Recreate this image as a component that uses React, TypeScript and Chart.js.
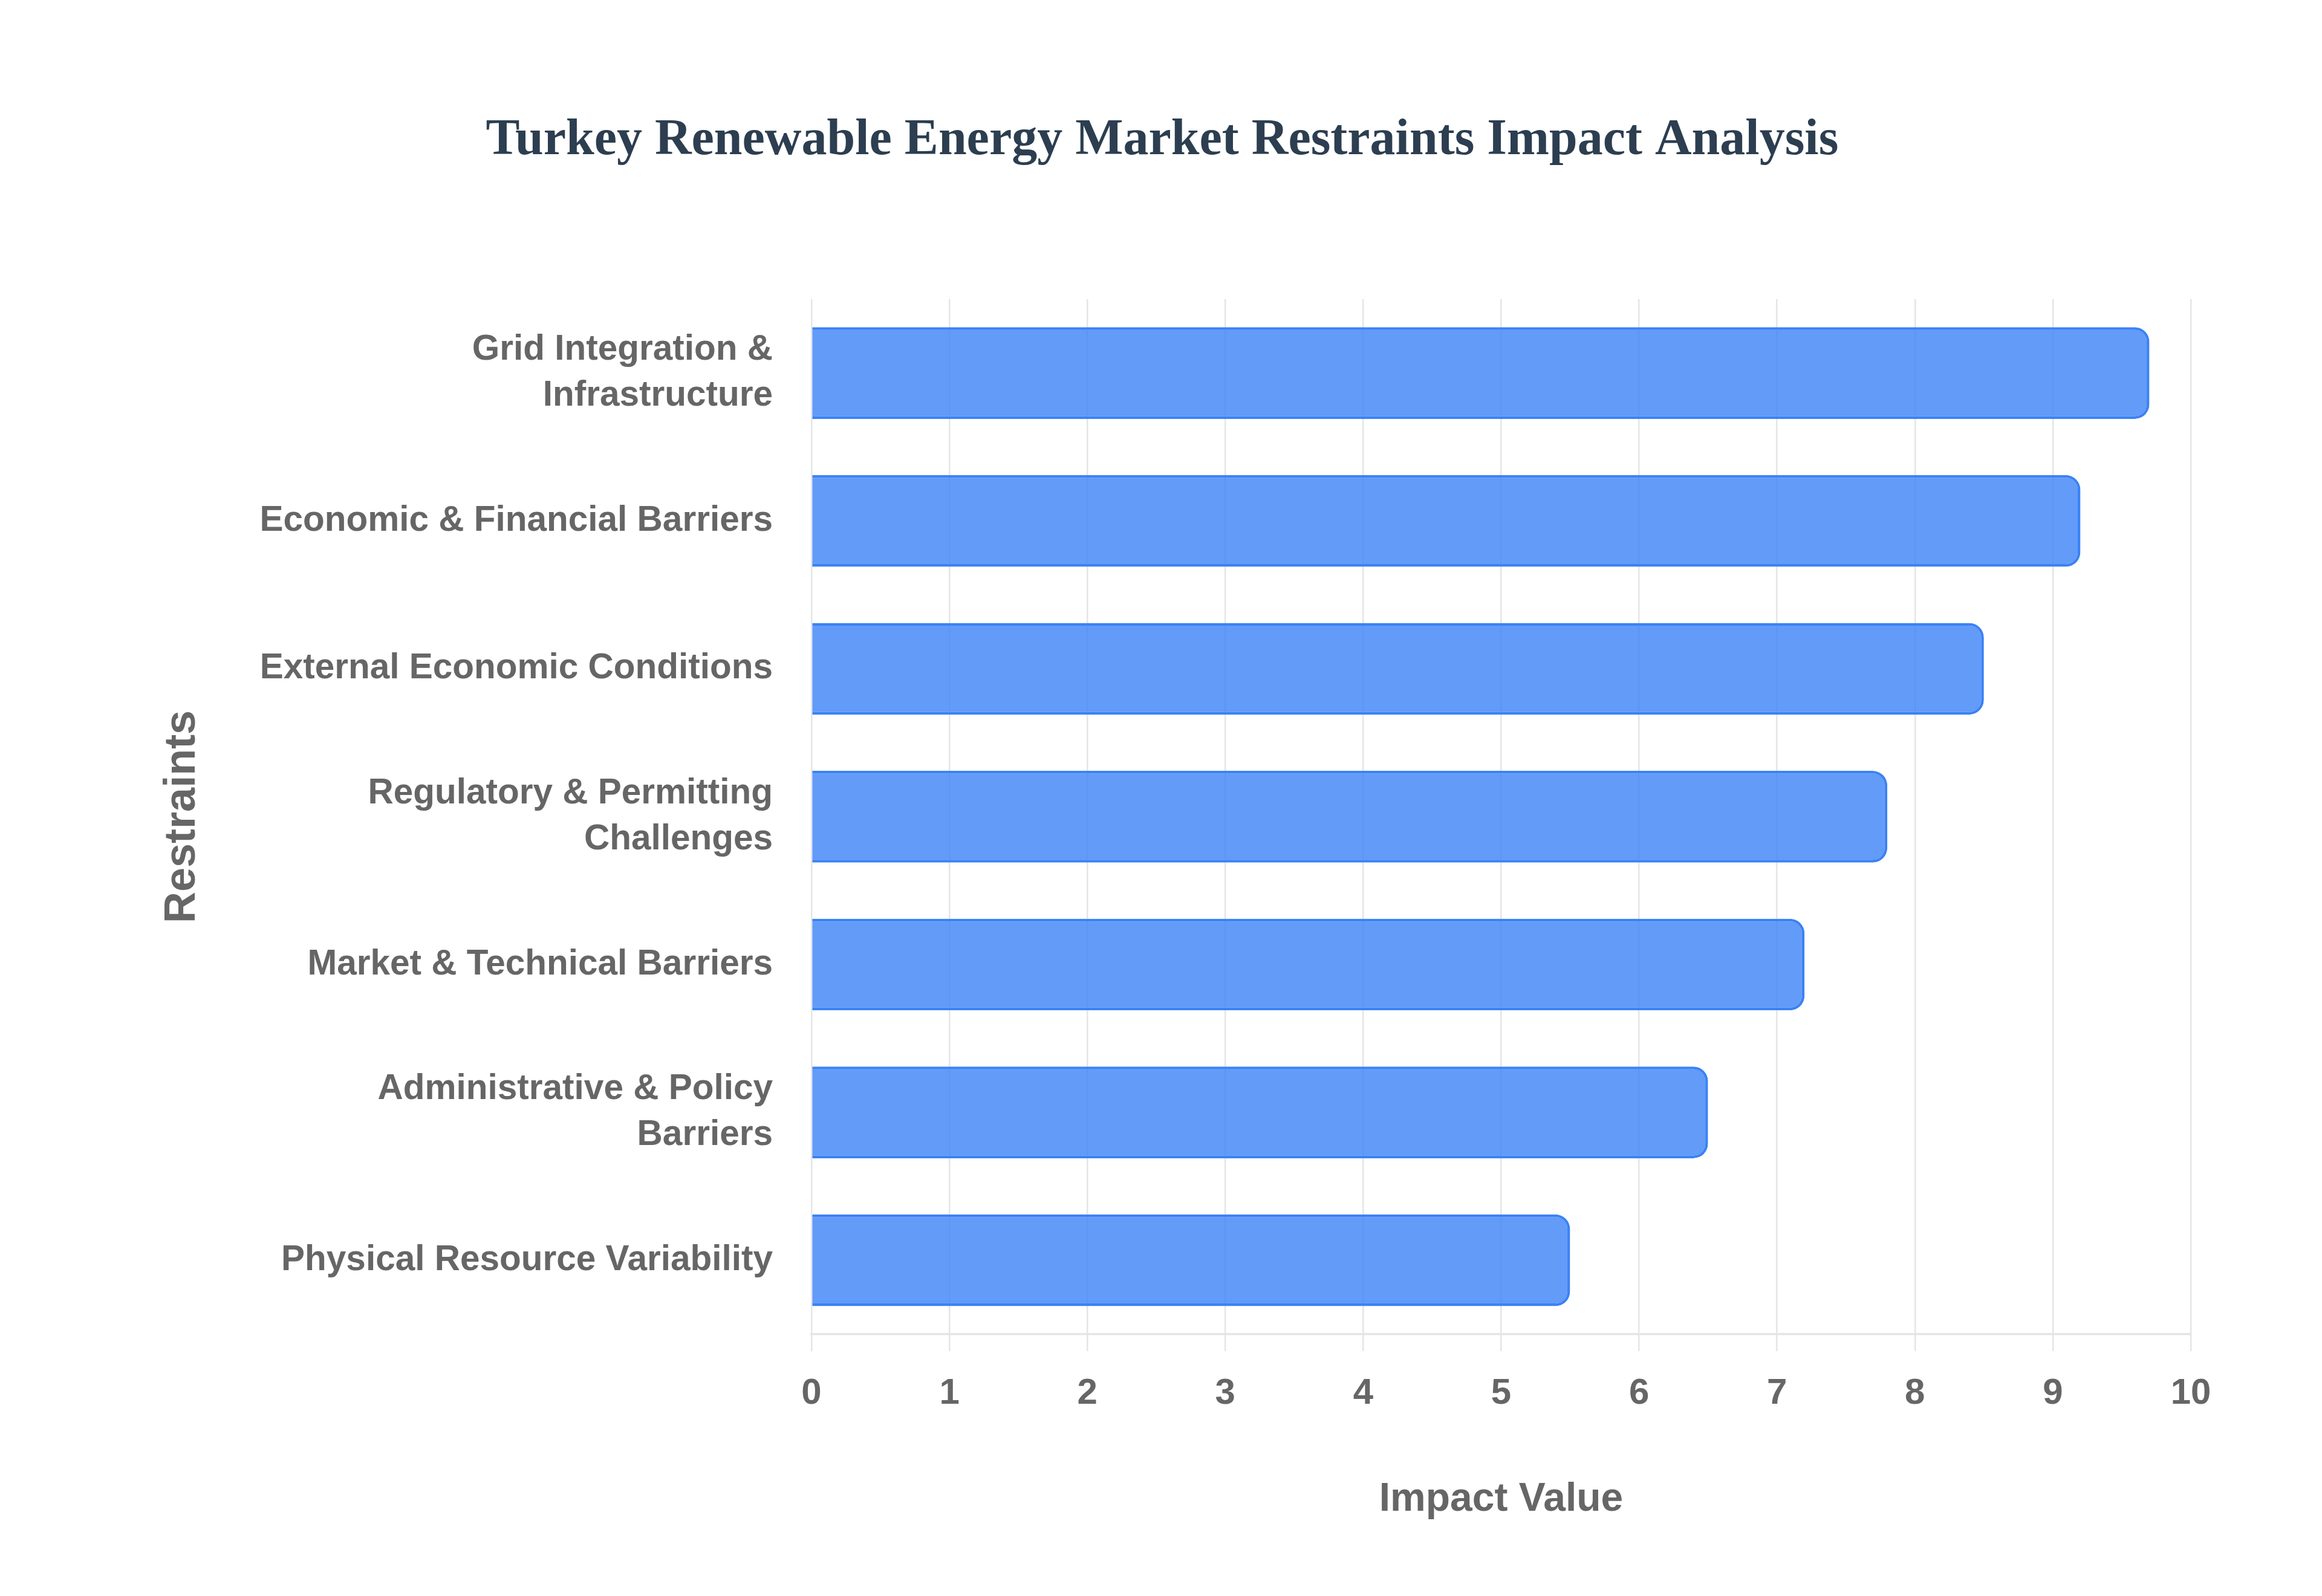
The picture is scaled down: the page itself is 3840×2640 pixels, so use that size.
import React, { useEffect, useRef } from "react";
import { Chart, registerables } from "chart.js";

Chart.register(...registerables);

const categories: (string | string[])[] = [
  ["Grid Integration &", "Infrastructure"],
  "Economic & Financial Barriers",
  "External Economic Conditions",
  ["Regulatory & Permitting", "Challenges"],
  "Market & Technical Barriers",
  ["Administrative & Policy", "Barriers"],
  "Physical Resource Variability",
];

const impactValues: number[] = [9.7, 9.2, 8.5, 7.8, 7.2, 6.5, 5.5];

const xTicks = { min: 0, max: 10, step: 1 };

const titleText = "Turkey Renewable Energy Market Restraints Impact Analysis";
const xTitle = "Impact Value";
const yTitle = "Restraints";

export default function App() {
  const ref = useRef<HTMLCanvasElement | null>(null);

  useEffect(() => {
    if (!ref.current) return;
    const sans = "'Liberation Sans', Arial, Helvetica, sans-serif";
    const chart = new Chart(ref.current, {
      type: "bar",
      data: {
        labels: categories as any,
        datasets: [
          {
            label: "Impact",
            data: impactValues,
            backgroundColor: "rgba(59,130,246,0.8)",
            borderColor: "rgb(59,130,246)",
            borderWidth: 4.5,
            borderRadius: 24,
            borderSkipped: "start",
            categoryPercentage: 1,
            barPercentage: 0.62,
          },
        ],
      },
      options: {
        indexAxis: "y",
        animation: false,
        responsive: true,
        maintainAspectRatio: false,
        devicePixelRatio: 1,
        layout: { padding: { top: 100, bottom: 119.4, left: 221, right: 217 } },
        plugins: {
          legend: { display: false },
          tooltip: { enabled: false },
          title: {
            display: true,
            text: titleText,
            color: "#2c3e50",
            font: { family: "'Liberation Serif', 'Times New Roman', serif", size: 84, weight: "bold", lineHeight: 1.2 },
            padding: { top: 83, bottom: 211 },
          },
        },
        scales: {
          x: {
            type: "linear",
            min: xTicks.min,
            max: xTicks.max,
            afterFit: (s: any) => {
              s.height = 313.6;
            },
            ticks: {
              stepSize: xTicks.step,
              color: "#666666",
              padding: 34,
              font: { family: sans, size: 60, weight: "bold", lineHeight: 1.2 },
            },
            grid: {
              color: "rgba(0,0,0,0.1)",
              lineWidth: 2.5,
              tickLength: 28,
              drawTicks: true,
            },
            border: { display: true, color: "rgba(0,0,0,0.1)", width: 3.5 },
            title: {
              display: true,
              text: xTitle,
              color: "#666666",
              font: { family: sans, size: 66, weight: "bold", lineHeight: 1.2 },
              padding: { top: 0, bottom: 0 },
            },
          },
          y: {
            type: "category",
            afterFit: (s: any) => {
              s.width = 1121;
            },
            ticks: {
              color: "#666666",
              padding: 64,
              font: { family: sans, size: 58.5, weight: "bold", lineHeight: 1.3 },
            },
            grid: { display: false, drawTicks: false },
            border: { display: false },
            title: {
              display: true,
              text: yTitle,
              color: "#666666",
              font: { family: sans, size: 72, weight: "bold", lineHeight: 1.2 },
              padding: { top: 38, bottom: 0 },
            },
          },
        },
      },
    });
    return () => chart.destroy();
  }, []);

  return (
    <div
      style={{
        position: "fixed",
        left: 0,
        top: 0,
        width: "3840px",
        height: "2640px",
        background: "#ffffff",
      }}
    >
      <canvas ref={ref} />
    </div>
  );
}
